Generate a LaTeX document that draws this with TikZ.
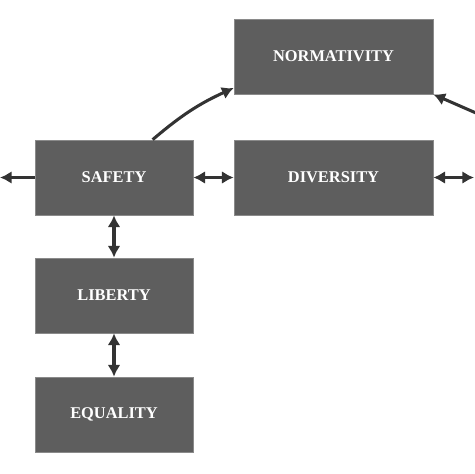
\documentclass[tikz,border=0pt]{standalone}
\usepackage{fontspec}
\setmainfont{Liberation Serif}
\usetikzlibrary{arrows.meta}

\definecolor{boxgray}{HTML}{5E5E5E}
\definecolor{boxline}{HTML}{8A8A8A}
\definecolor{arrowgray}{HTML}{333333}

\tikzset{
	value/.style={draw=boxline, line width=0.6pt, fill=boxgray, text=white,
		font=\fontsize{14}{16}\selectfont\bfseries,
		minimum width=4.74cm, minimum height=2.25cm, inner sep=0pt},
	widevalue/.style={value, minimum width=5.97cm},
	link/.style={arrowgray, line width=2.6pt, -{Latex[length=10pt,width=11pt]}},
	twolink/.style={link, {Latex[length=10pt,width=11pt]}-{Latex[length=10pt,width=11pt]}}
}

\begin{document}
\begin{tikzpicture}[x=0.03cm, y=-0.03cm]
	\useasboundingbox (0,0) rectangle (474,474);

	%boxes
	\node[widevalue] (norm) at (333.5,56.5) {NORMATIVITY};
	\node[value]     (safe) at (114,177.5)  {SAFETY};
	\node[widevalue] (div)  at (333.5,177.5){DIVERSITY};
	\node[value]     (lib)  at (114,295.5)  {LIBERTY};
	\node[value]     (equ)  at (114,414.5)  {EQUALITY};

	%loose ends at the right and left borders
	\coordinate (rtop) at (476,113);
	\coordinate (rmid) at (474,177.5);
	\coordinate (lmid) at (0,177.5);

	%arrows
	\draw[link] (safe.west) -- (lmid);				%to the left
	\draw[link] (safe.north west) ++(118,0) coordinate (sup) to[bend left=8] (norm.west |- 0,88);	%safety up to normativity
	\draw[link] (rtop) -- (norm.south east);		%from the right
	\draw[twolink] (safe.east) -- (div.west);
	\draw[twolink] (div.east) -- (rmid);
	\draw[twolink] (safe.south) -- (lib.north);
	\draw[twolink] (lib.south) -- (equ.north);
\end{tikzpicture}
\end{document}
